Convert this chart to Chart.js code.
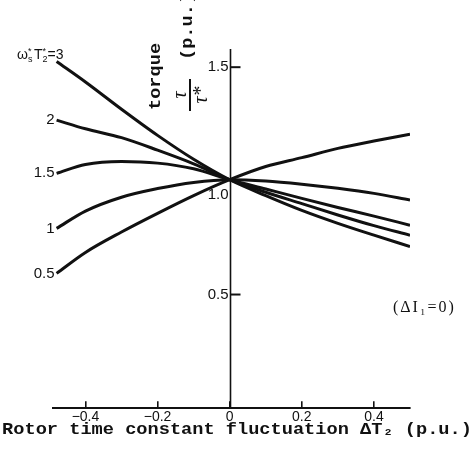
<!DOCTYPE html>
<html><head><meta charset="utf-8">
<script src="https://cdn.jsdelivr.net/npm/chart.js@4.4.1/dist/chart.umd.min.js"></script>
<style>html,body{margin:0;padding:0;background:#fff}#wrap{width:474px;height:451px}</style>
</head><body><div id="wrap"><canvas id="c" width="474" height="451"></canvas></div>
<script>
// ---- data ----
const xValues = [-0.48, -0.4, -0.3, -0.2, -0.1, 0, 0.1, 0.2, 0.3, 0.4, 0.5];
const curve05 = [0.593, 0.685, 0.775, 0.857, 0.935, 1.005, 1.063, 1.102, 1.143, 1.175, 1.205];
const curve1  = [0.791, 0.867, 0.928, 0.966, 0.993, 1.005, 0.999, 0.985, 0.967, 0.945, 0.916];
const curve15 = [1.033, 1.072, 1.085, 1.078, 1.053, 1.005, 0.964, 0.923, 0.883, 0.845, 0.805];
const curve2  = [1.267, 1.229, 1.190, 1.135, 1.075, 1.005, 0.950, 0.900, 0.850, 0.803, 0.761];
const curve3  = [1.525, 1.435, 1.315, 1.200, 1.095, 1.005, 0.935, 0.870, 0.813, 0.761, 0.711];
const curveLabels = ['0.5', '1', '1.5', '2', '3'];
const xTicks = [-0.4, -0.2, 0, 0.2, 0.4];
const xTickLabels = ['−0.4', '−0.2', '0', '0.2', '0.4'];
const yTicks = [0.5, 1.0, 1.5];
const yTickLabels = ['0.5', '1.0', '1.5'];
const xTitle = 'Rotor time constant fluctuation ΔT₂ (p.u.)';
const yTitle = 'torque';
const yUnit = '(p.u.)';
const note = '(ΔI₁=0)';

const allSeries = [curve05, curve1, curve15, curve2, curve3];
const datasets = allSeries.map((s, i) => ({
  label: curveLabels[i],
  data: xValues.map((x, j) => ({x: x, y: s[j]})),
  borderColor: '#111',
  borderWidth: 3,
  pointRadius: 0,
  tension: 0.4,
  cubicInterpolationMode: 'monotone',
  fill: false
}));

const NARROW = '"Liberation Sans Narrow", "Liberation Sans", sans-serif';
const MONO = '"Liberation Mono", "DejaVu Sans Mono", monospace';

function monoText(ctx, text, x, y, size, sx, align) {
  ctx.save();
  ctx.translate(x, y);
  ctx.scale(sx, 1);
  ctx.font = 'bold ' + size + 'px ' + MONO;
  ctx.textAlign = align;
  ctx.textBaseline = 'middle';
  ctx.fillText(text, 0, 0);
  ctx.restore();
}

const decor = {
  id: 'decor',
  beforeDatasetsDraw(chart) {
    const ctx = chart.ctx, xs = chart.scales.x, ys = chart.scales.y;
    const x0 = Math.round(xs.getPixelForValue(0)) + 0.5;
    ctx.save();
    ctx.strokeStyle = '#111';
    ctx.lineWidth = 1.6;
    ctx.beginPath();
    ctx.moveTo(x0, chart.chartArea.bottom);
    ctx.lineTo(x0, chart.chartArea.top);
    ctx.stroke();
    ctx.lineWidth = 2;
    yTicks.forEach(v => {
      const y = ys.getPixelForValue(v);
      ctx.beginPath(); ctx.moveTo(x0, y); ctx.lineTo(x0 + 10, y); ctx.stroke();
    });
    ctx.fillStyle = '#111';
    ctx.font = '15px ' + NARROW;
    ctx.textAlign = 'right';
    ctx.textBaseline = 'middle';
    yTicks.forEach((v, i) => {
      const y = ys.getPixelForValue(v);
      const dy = (v === 1.0) ? 14 : 0;
      ctx.fillText(yTickLabels[i], x0 - 2, y + dy);
    });
    ctx.restore();
  },
  afterDraw(chart) {
    const ctx = chart.ctx, xs = chart.scales.x, ys = chart.scales.y;
    ctx.save();
    ctx.fillStyle = '#111';
    ctx.strokeStyle = '#111';
    // curve labels
    ctx.font = '15px ' + NARROW;
    ctx.textAlign = 'right';
    ctx.textBaseline = 'middle';
    allSeries.forEach((s, i) => {
      const px = xs.getPixelForValue(xValues[0]);
      const py = ys.getPixelForValue(s[0]);
      if (i === 4) {
        // ω*s T*2 = 3
        let cx = 17, cy = py - 6;
        ctx.textAlign = 'left';
        ctx.font = '14px ' + NARROW; ctx.fillText('ω', cx, cy); cx += ctx.measureText('ω').width;
        ctx.font = '9px ' + NARROW; ctx.fillText('*', cx, cy - 4); ctx.fillText('s', cx, cy + 4); cx += 5;
        ctx.font = '14px ' + NARROW; ctx.fillText('T', cx + 1, cy); cx += ctx.measureText('T').width + 1;
        ctx.font = '9px ' + NARROW; ctx.fillText('*', cx, cy - 4); ctx.fillText('2', cx, cy + 4); cx += 5;
        ctx.font = '14px ' + NARROW; ctx.fillText('=' + curveLabels[i], cx, cy);
        ctx.textAlign = 'right';
        ctx.font = '15px ' + NARROW;
      } else {
        ctx.fillText(curveLabels[i], px - 2, py);
      }
    });
    // x title
    monoText(ctx, xTitle, 237, 430, 16, 1.165, 'center');
    // y title (rotated)
    ctx.save();
    ctx.translate(156, 110);
    ctx.rotate(-Math.PI / 2);
    monoText(ctx, yTitle, 0, 0, 16, 1.165, 'left');
    ctx.restore();
    // fraction tau / tau*
    ctx.save();
    ctx.translate(190, 95);
    ctx.rotate(-Math.PI / 2);
    ctx.lineWidth = 2;
    ctx.beginPath(); ctx.moveTo(-16, 0); ctx.lineTo(16, 0); ctx.stroke();
    ctx.font = 'italic 20px "Liberation Serif", serif';
    ctx.textAlign = 'center';
    ctx.textBaseline = 'alphabetic';
    ctx.fillText('τ', 0, -4);
    ctx.textBaseline = 'top';
    ctx.fillText('τ*', 0, 2);
    ctx.restore();
    // (p.u.)
    ctx.save();
    ctx.translate(188, 60);
    ctx.rotate(-Math.PI / 2);
    monoText(ctx, yUnit, 0, 0, 16, 1.165, 'left');
    ctx.restore();
    // note
    ctx.font = '16px "Liberation Serif", serif';
    ctx.letterSpacing = '2px';
    ctx.textAlign = 'left';
    ctx.textBaseline = 'middle';
    ctx.fillText(note, 393, 308);
    ctx.restore();
  }
};

new Chart(document.getElementById('c'), {
  type: 'line',
  data: {datasets},
  plugins: [decor],
  options: {
    responsive: false,
    animation: false,
    devicePixelRatio: 1,
    layout: {padding: {left: 53, right: 64, top: 49, bottom: 17}},
    plugins: {legend: {display: false}, tooltip: {enabled: false}, title: {display: false}},
    scales: {
      x: {
        type: 'linear',
        min: -0.49, max: 0.5,
        afterBuildTicks: (scale) => { scale.ticks = xTicks.map(v => ({value: v})); },
        grid: {drawOnChartArea: false, drawTicks: true, tickLength: -7, color: '#111', lineWidth: 1.6},
        border: {display: true, color: '#111', width: 2},
        ticks: {
          color: '#111', padding: 8,
          font: {size: 14, family: '"Liberation Sans", sans-serif'},
          callback: (v) => { const i = xTicks.indexOf(v); return i >= 0 ? xTickLabels[i] : ''; }
        }
      },
      y: {
        type: 'linear',
        min: 0, max: 1.58,
        display: false
      }
    }
  }
});
</script>
</body></html>
